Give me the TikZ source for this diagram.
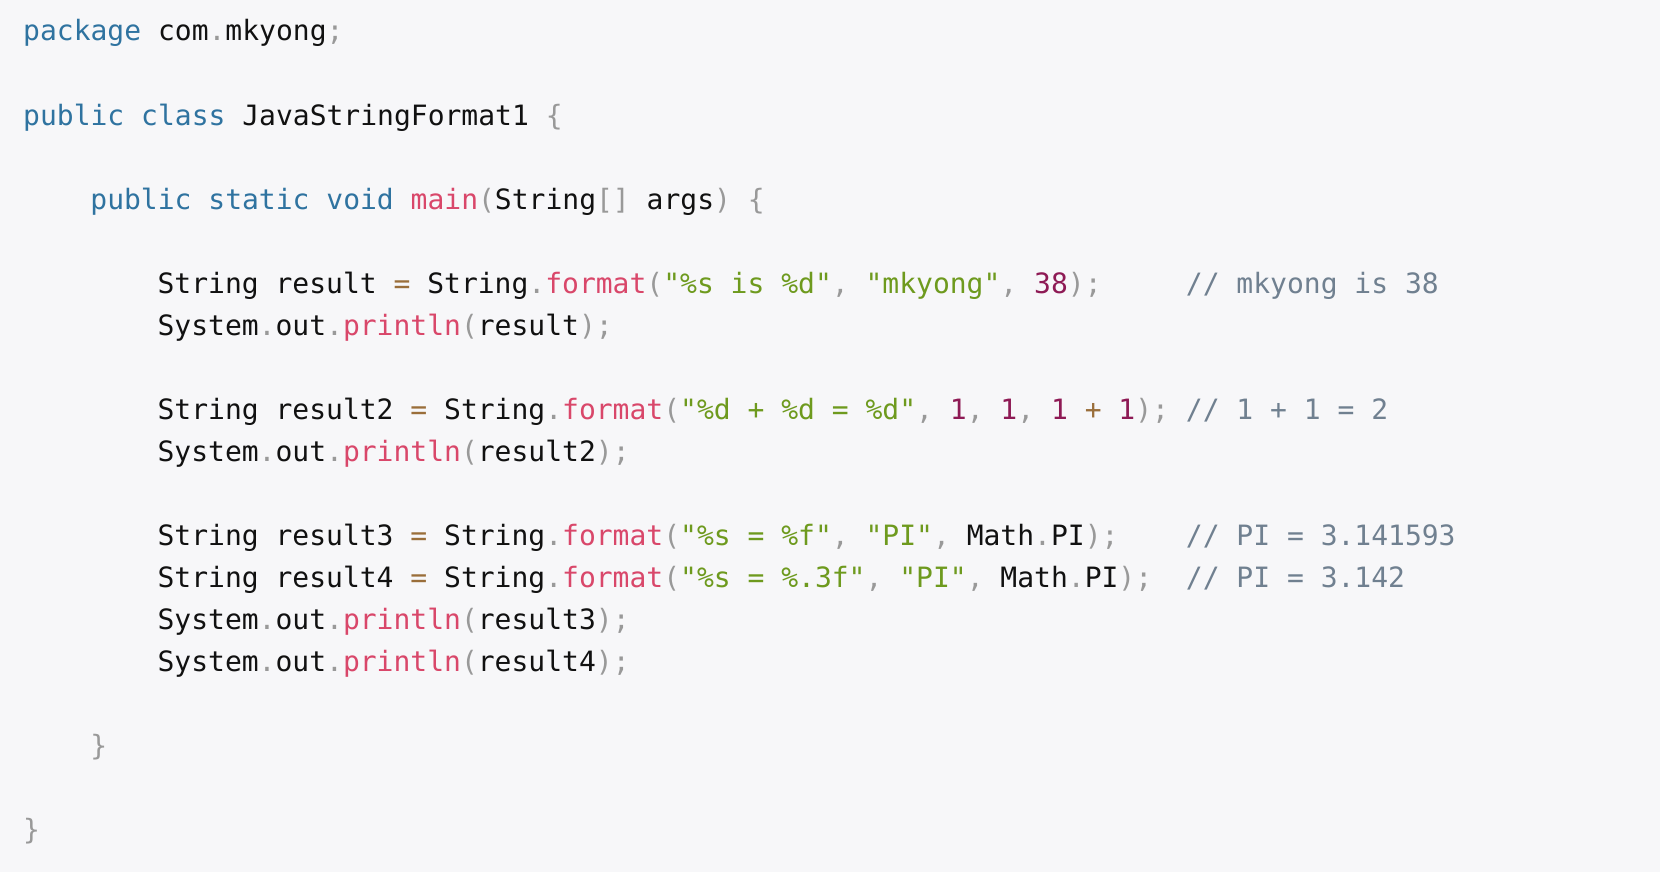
\documentclass[tikz,border=0pt]{standalone}
\usepackage{fontspec}
\setmonofont{DejaVu Sans Mono}
\definecolor{bg}{HTML}{F7F7F9}
\definecolor{kw}{HTML}{2F73A0}
\definecolor{fn}{HTML}{D9476A}
\definecolor{st}{HTML}{6E9A1E}
\definecolor{nu}{HTML}{8E1A55}
\definecolor{op}{HTML}{9A6E3A}
\definecolor{pu}{HTML}{999999}
\definecolor{cm}{HTML}{708090}
\definecolor{tx}{HTML}{111111}
\newcommand\K[1]{\textcolor{kw}{#1}}
\newcommand\F[1]{\textcolor{fn}{#1}}
\newcommand\St[1]{\textcolor{st}{#1}}
\newcommand\Nu[1]{\textcolor{nu}{#1}}
\newcommand\Op[1]{\textcolor{op}{#1}}
\newcommand\Pu[1]{\textcolor{pu}{#1}}
\newcommand\Cm[1]{\textcolor{cm}{#1}}
\tikzset{codeline/.style={anchor=base west,inner sep=0pt,text=tx,font=\ttfamily\fontsize{28}{34}\selectfont}}
\newcommand\cw{16.8}
\begin{document}
\begin{tikzpicture}[x=1pt,y=1pt]
\fill[bg] (0,0) rectangle (1660,-872);
\useasboundingbox (0,0) rectangle (1660,-872);
\def\ln#1{-(41+(#1-1)*42.05)}
\node[codeline] (l1) at (23,{\ln{1}}) {\K{package}~com\Pu{.}mkyong\Pu{;}};
\node[codeline] (l3) at (23,{\ln{3}}) {\K{public}~\K{class}~JavaStringFormat1~\Pu{\{}};
\node[codeline] (l5) at ({23+4*\cw},{\ln{5}}) {\K{public}~\K{static}~\K{void}~\F{main}\Pu{(}String\Pu{[]}~args\Pu{)}~\Pu{\{}};
\node[codeline] (l7) at ({23+8*\cw},{\ln{7}}) {String~result~\Op{=}~String\Pu{.}\F{format}\Pu{(}\St{"\%s~is~\%d"}\Pu{,}~\St{"mkyong"}\Pu{,}~\Nu{38}\Pu{)}\Pu{;}~~~~~\Cm{//~mkyong~is~38}};
\node[codeline] (l8) at ({23+8*\cw},{\ln{8}}) {System\Pu{.}out\Pu{.}\F{println}\Pu{(}result\Pu{)}\Pu{;}};
\node[codeline] (l10) at ({23+8*\cw},{\ln{10}}) {String~result2~\Op{=}~String\Pu{.}\F{format}\Pu{(}\St{"\%d~+~\%d~=~\%d"}\Pu{,}~\Nu{1}\Pu{,}~\Nu{1}\Pu{,}~\Nu{1}~\Op{+}~\Nu{1}\Pu{)}\Pu{;}~\Cm{//~1~+~1~=~2}};
\node[codeline] (l11) at ({23+8*\cw},{\ln{11}}) {System\Pu{.}out\Pu{.}\F{println}\Pu{(}result2\Pu{)}\Pu{;}};
\node[codeline] (l13) at ({23+8*\cw},{\ln{13}}) {String~result3~\Op{=}~String\Pu{.}\F{format}\Pu{(}\St{"\%s~=~\%f"}\Pu{,}~\St{"PI"}\Pu{,}~Math\Pu{.}PI\Pu{)}\Pu{;}~~~~\Cm{//~PI~=~3.141593}};
\node[codeline] (l14) at ({23+8*\cw},{\ln{14}}) {String~result4~\Op{=}~String\Pu{.}\F{format}\Pu{(}\St{"\%s~=~\%.3f"}\Pu{,}~\St{"PI"}\Pu{,}~Math\Pu{.}PI\Pu{)}\Pu{;}~~\Cm{//~PI~=~3.142}};
\node[codeline] (l15) at ({23+8*\cw},{\ln{15}}) {System\Pu{.}out\Pu{.}\F{println}\Pu{(}result3\Pu{)}\Pu{;}};
\node[codeline] (l16) at ({23+8*\cw},{\ln{16}}) {System\Pu{.}out\Pu{.}\F{println}\Pu{(}result4\Pu{)}\Pu{;}};
\node[codeline] (l18) at ({23+4*\cw},{\ln{18}}) {\Pu{\}}};
\node[codeline] (l20) at (23,{\ln{20}}) {\Pu{\}}};
\end{tikzpicture}
\end{document}
